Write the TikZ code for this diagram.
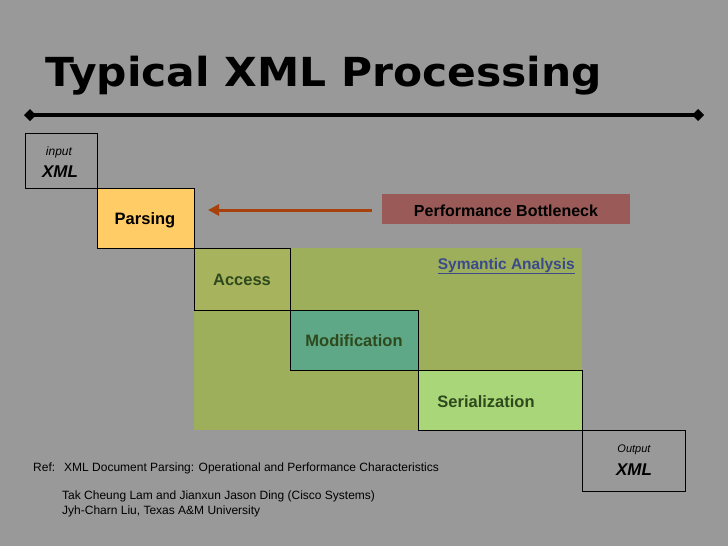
\documentclass[tikz,border=0pt]{standalone}
\usepackage{fontspec}
\setmainfont{Liberation Sans}
\newfontfamily\titlefont{DejaVu Sans}
\usetikzlibrary{arrows.meta}
\definecolor{bg}{HTML}{999999}
\definecolor{parse}{HTML}{FFCC66}
\definecolor{sem}{HTML}{9DAF5A}
\definecolor{acc}{HTML}{A8B35E}
\definecolor{modc}{HTML}{5EA888}
\definecolor{ser}{HTML}{AAD67A}
\definecolor{txtg}{HTML}{2E4A1C}
\definecolor{arr}{HTML}{A8420C}
\definecolor{bott}{HTML}{9A5B58}
\definecolor{blu}{HTML}{3A4A8C}
\begin{document}
\begin{tikzpicture}[x=1pt,y=-1pt,
  box/.style={draw=black,line width=0.8pt,anchor=north west,inner sep=0},
  lbl/.style={font=\fontsize{16.5}{18}\selectfont\bfseries,text=txtg,inner sep=0},
  small/.style={font=\fontsize{12}{14}\selectfont,anchor=base west,inner sep=0}]
\fill[bg] (0,0) rectangle (728,546);
\useasboundingbox (0,0) rectangle (728,546);
\node[anchor=base west,inner sep=0,font=\fontsize{40}{44}\titlefont\bfseries,xscale=1.06] (title) at (45,86) {Typical XML Processing};
\coordinate (l1) at (30,115); \coordinate (l2) at (698,115);
\draw[line width=4pt] (l1) -- (l2);
\fill (l1) +(-6,0) -- +(0,-6) -- +(6,0) -- +(0,6) -- cycle;
\fill (l2) +(-6,0) -- +(0,-6) -- +(6,0) -- +(0,6) -- cycle;
\node[box,minimum width=72,minimum height=55] (in) at (25,133) {};
\node[inner sep=0,font=\fontsize{12}{13}\selectfont\itshape] (int) at (59,152) {input};
\node[inner sep=0,font=\fontsize{17}{18}\selectfont\bfseries\itshape] (inx) at (60,172) {XML};
\fill[sem] (194,248) rectangle (582,430);
\node[box,fill=parse,minimum width=97,minimum height=60] (parse) at (97,188) {};
\node[inner sep=0,font=\fontsize{16.5}{18}\selectfont\bfseries] (pt) at (145,220) {Parsing};
\node[box,fill=acc,minimum width=96,minimum height=62] (acc) at (194,248) {};
\node[lbl] (at) at (242,280) {Access};
\node[box,fill=modc,minimum width=128,minimum height=60] (mod) at (290,310) {};
\node[lbl] (mt) at (354,341) {Modification};
\node[box,fill=ser,minimum width=164,minimum height=60] (ser) at (418,370) {};
\node[lbl] (st) at (486,402) {Serialization};
\node[anchor=east,inner sep=0,font=\fontsize{15.5}{17}\selectfont\bfseries,text=blu] (sa) at (575,266) {\underline{Symantic Analysis}};
\node[fill=bott,anchor=north west,minimum width=248,minimum height=30,inner sep=0] (bn) at (382,194) {};
\node[inner sep=0,font=\fontsize{16}{17}\selectfont\bfseries] (bnt) at (506,211) {Performance Bottleneck};
\coordinate (a1) at (372,210);
\draw[arr,line width=3pt,-{Triangle[length=11pt,width=11pt]}] (a1) -- (208,210);
\node[box,minimum width=103,minimum height=61] (out) at (582,430) {};
\node[inner sep=0,font=\fontsize{11}{12}\selectfont\itshape] (ot) at (634,450) {Output};
\node[inner sep=0,font=\fontsize{17}{18}\selectfont\bfseries\itshape] (ox) at (634,470) {XML};
\node[small] (ref) at (33,471) {Ref:\hspace{9pt}XML Document Parsing: Operational and Performance Characteristics};
\node[small] (r2) at (62,499) {Tak Cheung Lam and Jianxun Jason Ding (Cisco Systems)};
\node[small] (r3) at (62,514) {Jyh-Charn Liu, Texas A\&M University};
\end{tikzpicture}
\end{document}
